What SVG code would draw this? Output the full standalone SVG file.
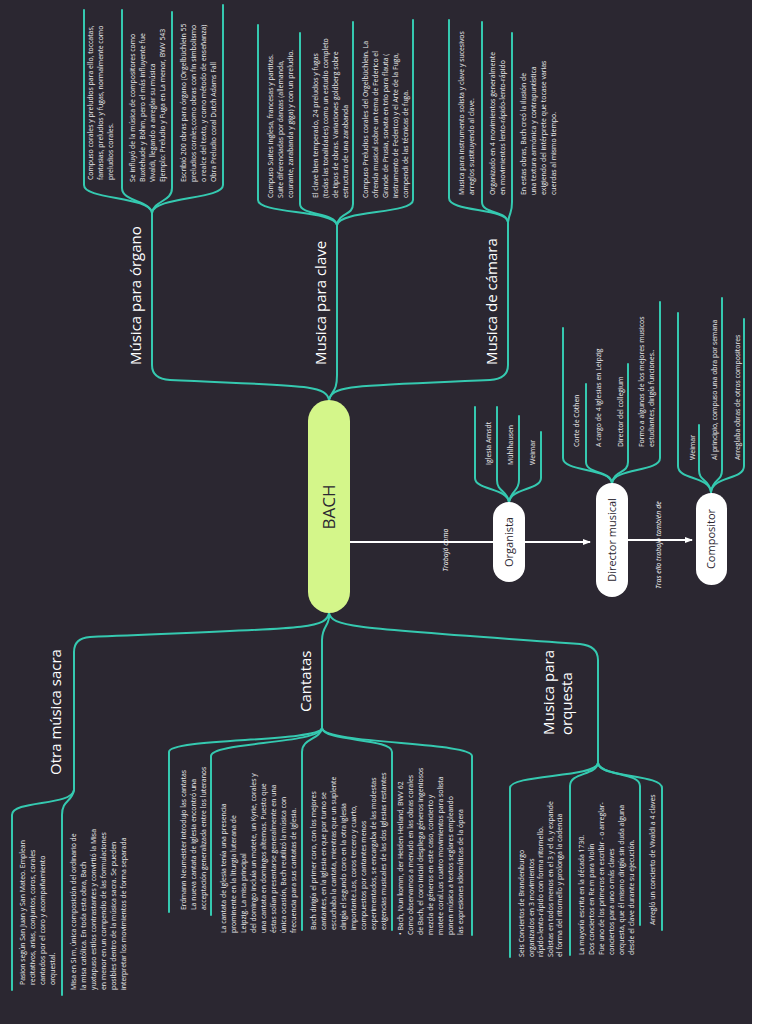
<svg xmlns="http://www.w3.org/2000/svg" width="768" height="1024" viewBox="0 0 768 1024">
<style>
.ln{fill:none;stroke:#35c9b0;stroke-width:2;stroke-linecap:round}
.lf{font-family:"Open Sans","Liberation Sans",sans-serif;font-size:6.9px;fill:#eeeeee}
.br{font-family:"Open Sans","Liberation Sans",sans-serif;font-size:15px;fill:#ffffff}
.nd{font-family:"Open Sans","Liberation Sans",sans-serif;font-size:11px;fill:#2b2731;text-anchor:middle}
.lb{font-family:"Open Sans","Liberation Sans",sans-serif;font-size:7px;fill:#ffffff;font-style:italic;text-anchor:middle}
</style>
<defs><marker id="ah" markerWidth="8" markerHeight="8" refX="7" refY="4" orient="auto" markerUnits="userSpaceOnUse"><path d="M0,1 L8,4 L0,7z" fill="#ffffff"/></marker></defs>
<rect width="768" height="1024" fill="#ffffff"/>
<rect width="752" height="1024" fill="#2b2731"/>
<g id="connectors">
<path class="ln" d="M329,400 C326,384 300,386 170,380 Q152,379 152,365 V213"/>
<path class="ln" d="M329,400 C332,390 337,392 337,375 V225"/>
<path class="ln" d="M329,400 C332,384 360,386 490,380 Q508,379 508,365 V222"/>
<path class="ln" d="M152,213 C150,196 84,200 84,185 V10"/>
<path class="ln" d="M152,213 C150,200 122,202 122,188 V10"/>
<path class="ln" d="M152,213 C154,200 172,202 172,188 V12"/>
<path class="ln" d="M152,213 C154,196 223,200 223,185 V5"/>
<path class="ln" d="M337,225 C335,210 258,214 258,200 V25"/>
<path class="ln" d="M337,225 C335,212 300,216 300,204 V33"/>
<path class="ln" d="M337,225 C339,212 353,216 353,204 V22"/>
<path class="ln" d="M337,225 C339,210 413,214 413,200 V20"/>
<path class="ln" d="M508,222 C506,208 449,212 449,198 V20"/>
<path class="ln" d="M508,222 C506,210 482,214 482,202 V22"/>
<path class="ln" d="M508,222 C510,210 512,214 512,202 V33"/>
<path class="ln" d="M509,502 C507,488 475,490 475,478 V407"/>
<path class="ln" d="M509,502 C507,490 497,492 497,480 V407"/>
<path class="ln" d="M509,502 C511,490 519,492 519,480 V416"/>
<path class="ln" d="M509,502 C511,488 541,490 541,478 V432"/>
<path class="ln" d="M612,483 C610,468 563,472 563,458 V328"/>
<path class="ln" d="M612,483 C610,470 586,474 586,462 V384"/>
<path class="ln" d="M612,483 C614,470 628,474 628,462 V364"/>
<path class="ln" d="M612,483 C614,468 660,472 660,458 V302"/>
<path class="ln" d="M711,492 C709,476 678,480 678,466 V313"/>
<path class="ln" d="M711,492 C709,478 699,482 699,470 V425"/>
<path class="ln" d="M711,492 C713,478 722,482 722,470 V298"/>
<path class="ln" d="M711,492 C713,476 744,480 744,466 V319"/>
<path class="ln" d="M329,613 C326,630 300,628 90,637 Q74,638 74,652 V790"/>
<path class="ln" d="M329,613 C331,625 322,625 322,640 V728"/>
<path class="ln" d="M329,613 C332,628 360,628 580,644 Q598,646 598,660 V763"/>
<path class="ln" d="M74,790 C72,806 12,800 12,815 V990"/>
<path class="ln" d="M74,790 C72,802 62,800 62,815 V995"/>
<path class="ln" d="M322,728 C320,742 169,738 169,752 V912"/>
<path class="ln" d="M322,728 C320,744 211,742 211,756 V915"/>
<path class="ln" d="M322,728 C320,740 302,738 302,752 V930"/>
<path class="ln" d="M322,728 C324,742 392,738 392,752 V930"/>
<path class="ln" d="M322,728 C324,744 472,742 472,756 V935"/>
<path class="ln" d="M598,763 C596,778 510,774 510,788 V957"/>
<path class="ln" d="M598,763 C596,776 570,772 570,786 V955"/>
<path class="ln" d="M598,763 C600,776 640,772 640,786 V925"/>
<path class="ln" d="M598,763 C600,778 662,774 662,788 V930"/>
<path d="M350,542 H590" stroke="#ffffff" stroke-width="2" fill="none" marker-end="url(#ah)"/>
<path d="M628,540 H692" stroke="#ffffff" stroke-width="2" fill="none" marker-end="url(#ah)"/>
<text class="lb" transform="translate(448,550) rotate(-90)">Trabajó como</text>
<text class="lb" transform="translate(661,545) rotate(-90)">Tras ello trabajó también de</text>
</g>
<g id="bach"><rect x="308" y="400" width="42" height="213" rx="21" fill="#d4f68a"/><text transform="translate(335,507) rotate(-90)" font-family="Open Sans, Liberation Sans, sans-serif" font-size="17" fill="#2b2731" text-anchor="middle">BACH</text></g>
<g id="organista"><rect x="493" y="502" width="32" height="80" rx="16" fill="#ffffff"/><text class="nd" transform="translate(513,542) rotate(-90)">Organista</text></g>
<g id="director"><rect x="596" y="483" width="32" height="114" rx="16" fill="#ffffff"/><text class="nd" transform="translate(616,540) rotate(-90)">Director musical</text></g>
<g id="compositor"><rect x="696" y="493" width="31" height="92" rx="15.5" fill="#ffffff"/><text class="nd" transform="translate(715,539) rotate(-90)">Compositor</text></g>
<g id="organo"><text class="br" transform="translate(141,365) rotate(-90)">Música para órgano</text>
<text class="lf" transform="translate(93,180) rotate(-90)"><tspan x="0">Compuso corales y preludios para ello, toccatas,</tspan><tspan x="0" dy="10">fantasias, preludios y fugas, normalmente como</tspan><tspan x="0" dy="10">preludios corales.</tspan></text>
<text class="lf" transform="translate(135,182) rotate(-90)"><tspan x="0">Se influyó de la música de compositores como</tspan><tspan x="0" dy="10">Buxtehude y Böhm, pero el más influyente fue</tspan><tspan x="0" dy="10">Vivaldi, llegando a arreglar su música</tspan><tspan x="0" dy="10">Ejemplo: Preludio y Fuga en La menor, BWV 543</tspan></text>
<text class="lf" transform="translate(186,182) rotate(-90)"><tspan x="0">Escribió 200 obras para órgano (Orgelbüchlein 55</tspan><tspan x="0" dy="10">preludios corales,como obras con fin simbolismo</tspan><tspan x="0" dy="10">o realce del texto, y como método de enseñanza)</tspan><tspan x="0" dy="10">Obra Preludio coral Dutch Adams Fall</tspan></text></g>
<g id="clave"><text class="br" transform="translate(326,365) rotate(-90)">Musica para clave</text>
<text class="lf" transform="translate(273,198) rotate(-90)"><tspan x="0">Compuso Suites inglesa, francesas y partitas.</tspan><tspan x="0" dy="10">Suite diferenciadas por danzas (allemanda,</tspan><tspan x="0" dy="10">courante, zarabanda y giga) y con un preludio.</tspan></text>
<text class="lf" transform="translate(318,198) rotate(-90)"><tspan x="0">El clave bien temperado, 24 preludios y fugas</tspan><tspan x="0" dy="10">(todas las tonalidades) como un estudio completo</tspan><tspan x="0" dy="10">de tipos de obras. Variaciones goldberg sobre</tspan><tspan x="0" dy="10">estructura de una zarabanda</tspan></text>
<text class="lf" transform="translate(368,198) rotate(-90)"><tspan x="0">Compuso Preludios corales del Orgelbüchlein. La</tspan><tspan x="0" dy="10">ofrenda musical sobre un tema de Federico el</tspan><tspan x="0" dy="10">Grande de Prusia, sonata en trio para flauta (</tspan><tspan x="0" dy="10">instrumento de Federico) y el Arte de la Fuga,</tspan><tspan x="0" dy="10">compendi de las técnicas de fuga.</tspan></text></g>
<g id="camara"><text class="br" transform="translate(497,365) rotate(-90)">Musica de cámara</text>
<text class="lf" transform="translate(464,195) rotate(-90)"><tspan x="0">Musica para instrumento solista y clave y sucesivos</tspan><tspan x="0" dy="10">arreglos sustituyendo al clave.</tspan></text>
<text class="lf" transform="translate(495,195) rotate(-90)"><tspan x="0">Organizado en 4 movimientos generalmente</tspan><tspan x="0" dy="10">en movimientos lento-rápido-lento-rápido</tspan></text>
<text class="lf" transform="translate(526,195) rotate(-90)"><tspan x="0">En estas obras, Bach creó la ilusión de</tspan><tspan x="0" dy="10">una textura armónica y contrapuntística</tspan><tspan x="0" dy="10">exigiendo del intérprete que tocase varias</tspan><tspan x="0" dy="10">cuerdas al mismo tiempo.</tspan></text></g>
<g id="organista-hojas">
<text class="lf" transform="translate(491,465) rotate(-90)">Iglesia Arnsdt</text>
<text class="lf" transform="translate(513,465) rotate(-90)">Mühlhausen</text>
<text class="lf" transform="translate(535,465) rotate(-90)">Weimar</text></g>
<g id="director-hojas">
<text class="lf" transform="translate(579,447) rotate(-90)">Corte de Cöthen</text>
<text class="lf" transform="translate(601,447) rotate(-90)">A cargo de 4 iglesias en Leipzig</text>
<text class="lf" transform="translate(623,447) rotate(-90)">Director del collegium</text>
<text class="lf" transform="translate(644,447) rotate(-90)"><tspan x="0">Formo a algunos de los mejores musicos</tspan><tspan x="0" dy="10">estudiantes, dirigía funciones..</tspan></text></g>
<g id="compositor-hojas">
<text class="lf" transform="translate(695,460) rotate(-90)">Weimar</text>
<text class="lf" transform="translate(717,460) rotate(-90)">Al principio, compuso una obra por semana</text>
<text class="lf" transform="translate(740,460) rotate(-90)">Arreglaba obras de otros compositores</text></g>
<g id="sacra"><text class="br" transform="translate(61,775) rotate(-90)">Otra música sacra</text>
<text class="lf" transform="translate(25,985) rotate(-90)"><tspan x="0">Pasion según San Juan y San Mateo. Emplean</tspan><tspan x="0" dy="10">recitativos, arias, conjuntos, coros, corales</tspan><tspan x="0" dy="10">cantados por el coro y acompañamiento</tspan><tspan x="0" dy="10">orquestal.</tspan></text>
<text class="lf" transform="translate(76,990) rotate(-90)"><tspan x="0">Misa en Si m, única composición del ordinario de</tspan><tspan x="0" dy="10">la misa católica. En toda esta obra, Bach</tspan><tspan x="0" dy="10">yuxtapuso estilos contrastantes y convirtió la Misa</tspan><tspan x="0" dy="10">en menor en un compendio de las formulaciones</tspan><tspan x="0" dy="10">posibles dentro de la música sacra. Se pueden</tspan><tspan x="0" dy="10">interpretar los movimientos de forma separada</tspan></text></g>
<g id="cantatas"><text class="br" transform="translate(311,712) rotate(-90)">Cantatas</text>
<text class="lf" transform="translate(186,910) rotate(-90)"><tspan x="0">Erdmann Neumeister introdujo las cantatas</tspan><tspan x="0" dy="10">La nueva cantata de iglesia encontró una</tspan><tspan x="0" dy="10">acceptación generalizada entre los luteranos</tspan></text>
<text class="lf" transform="translate(226,933) rotate(-90)"><tspan x="0">La cantata de iglesia tenía una presencia</tspan><tspan x="0" dy="10">prominente en la liturgia luterana de</tspan><tspan x="0" dy="10">Leipzig. La misa principal</tspan><tspan x="0" dy="10">del domingo incluía un motete, un Kyrie, corales y</tspan><tspan x="0" dy="10">una cantata en domingos alternos. Puesto que</tspan><tspan x="0" dy="10">éstas solían presentarse generalmente en una</tspan><tspan x="0" dy="10">única ocasión, Bach reutilizó la música con</tspan><tspan x="0" dy="10">frecuencia para sus cantatas de Iglesia.</tspan></text>
<text class="lf" transform="translate(316,930) rotate(-90)"><tspan x="0">Bach dirigía el primer coro, con los mejores</tspan><tspan x="0" dy="10">cantantes, en la iglesia en que por turno se</tspan><tspan x="0" dy="10">escuchaba la cantata, mientras que un suplente</tspan><tspan x="0" dy="10">dirigía el segundo coro en la otra iglesia</tspan><tspan x="0" dy="10">importante.Los, coros tercero y cuarto,</tspan><tspan x="0" dy="10">compuestos por cantantes menos</tspan><tspan x="0" dy="10">experimentados, se encargaba de las modestas</tspan><tspan x="0" dy="10">exigencias musicales de las dos iglesias restantes</tspan></text>
<text class="lf" transform="translate(403,935) rotate(-90)"><tspan x="0">• Bach, Nun komm, der Heiden Heiland, BWV 62</tspan><tspan x="0" dy="10">Como observamos a menudo en las obras corales</tspan><tspan x="0" dy="10">de Bach, el coro inicial despliega géneros ingeniosos</tspan><tspan x="0" dy="10">mezcla de géneros en este caso, concierto y</tspan><tspan x="0" dy="10">motete coral.Los cuatro movimientos para solista</tspan><tspan x="0" dy="10">ponen música a textos seglares empleando</tspan><tspan x="0" dy="10">las expresiones idiomáticas de la ópera</tspan></text></g>
<g id="orquesta"><text class="br" transform="translate(554,735) rotate(-90)"><tspan x="0">Musica para</tspan><tspan x="0" dy="18">orquesta</tspan></text>
<text class="lf" transform="translate(524,957) rotate(-90)"><tspan x="0">Seis Conciertos de Brandenburgo</tspan><tspan x="0" dy="9.5">organizados en 3 movimientos</tspan><tspan x="0" dy="9.5">rápido-lento-rápido con forma ritornello.</tspan><tspan x="0" dy="9.5">Solistas en todos menos en el 3 y el 6, y expande</tspan><tspan x="0" dy="9.5">el forma del ritornello y prolonga la cadencia</tspan></text>
<text class="lf" transform="translate(584,955) rotate(-90)"><tspan x="0">La mayoría escrita en la década 1730.</tspan><tspan x="0" dy="10">Dos conciertos en Re m para Violín</tspan><tspan x="0" dy="10">Fue uno de los primeros en escribir - o arreglar-</tspan><tspan x="0" dy="10">conciertos para uno o más claves</tspan><tspan x="0" dy="10">orquesta, que él mismo dirigía sin duda alguna</tspan><tspan x="0" dy="10">desde el clave durante su ejecución.</tspan></text>
<text class="lf" transform="translate(655,925) rotate(-90)">Arregló un concierto de Vivaldi a 4 claves</text></g>
</svg>
